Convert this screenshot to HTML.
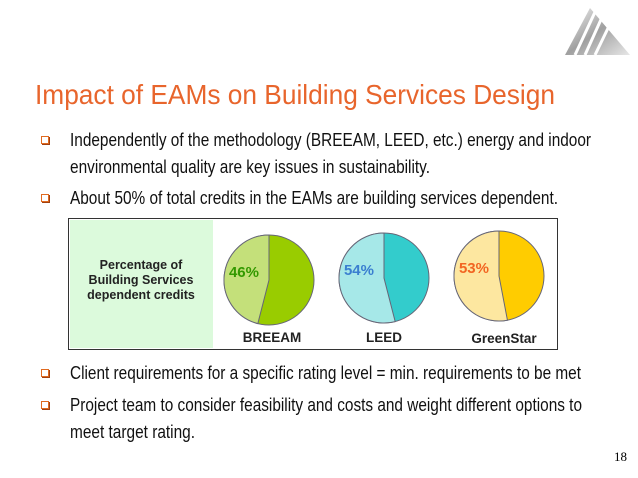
<!DOCTYPE html>
<html><head><meta charset="utf-8"><style>
body{margin:0;width:638px;height:478px;background:#fff;position:relative;overflow:hidden;font-family:"Liberation Sans",sans-serif}
.fit{position:absolute;white-space:nowrap;transform-origin:0 50%}
.title{color:#e8652c;font-size:28px;left:35px;top:78px;line-height:34px}
.t{font-size:18px;color:#111;line-height:20px;left:70px}
.b{position:absolute;left:41px;width:6px;height:6px;border:1.5px solid #e06a20;background:#fff;box-shadow:1px 1px 0 #a04010}
</style></head><body>
<svg width="100" height="70" style="position:absolute;left:545px;top:0">
<defs><linearGradient id="lg" x1="0" y1="0" x2="1" y2="1"><stop offset="0" stop-color="#eee"/><stop offset=".5" stop-color="#777"/><stop offset="1" stop-color="#ddd"/></linearGradient></defs>
<polygon points="45,8 85,55 20,55" fill="url(#lg)" opacity=".7"/>
<g stroke="#fff" stroke-width="3"><line x1="30" y1="55" x2="50" y2="12"/><line x1="40" y1="55" x2="58" y2="15"/><line x1="50" y1="55" x2="66" y2="22"/></g>
</svg>
<div class="fit title" data-w="520">Impact of EAMs on Building Services Design</div>
<div class="b" style="top:136px"></div>
<div class="fit t" data-w="521" style="top:130px">Independently of the methodology (BREEAM, LEED, etc.) energy and indoor</div>
<div class="fit t" data-w="360" style="top:157px">environmental quality are key issues in sustainability.</div>
<div class="b" style="top:194px"></div>
<div class="fit t" data-w="488" style="top:188px">About 50% of total credits in the EAMs are building services dependent.</div>
<div style="position:absolute;left:68px;top:218px;width:488px;height:130px;border:1.5px solid #333;background:#fff"></div>
<div style="position:absolute;left:70px;top:220px;width:143px;height:128px;background:#dcfadc"></div>
<div style="position:absolute;left:70px;top:258px;width:142px;text-align:center;font-weight:bold;font-size:12.5px;line-height:15px;color:#222">Percentage of<br>Building Services<br>dependent credits</div>
<svg id="pies" width="638" height="478" style="position:absolute;left:0;top:0"></svg>
<div class="b" style="top:369px"></div>
<div class="fit t" data-w="511" style="top:363px">Client requirements for a specific rating level = min. requirements to be met</div>
<div class="b" style="top:401px"></div>
<div class="fit t" data-w="512" style="top:395px">Project team to consider feasibility and costs and weight different options to</div>
<div class="fit t" data-w="125" style="top:422px">meet target rating.</div>
<div style="position:absolute;left:614px;top:449px;font-family:'Liberation Serif',serif;font-size:13px">18</div>
<script>
const categories=["BREEAM","LEED","GreenStar"];
const values=[46,54,53];
const labels=["46%","54%","53%"];
const centersX=[269,384,499];
const centersY=[280,278,276];
const lightCols=["#c4e07a","#a6e8e8","#fde7a0"];
const darkCols=["#99cc00","#33cccc","#ffcc00"];
const txtCols=["#339900","#3a7fd0","#f26522"];
const r=45;
const svg=document.getElementById('pies');
const NS="http://www.w3.org/2000/svg";
function pt(cx,cy,f){const a=-Math.PI/2-f*2*Math.PI;return [cx+r*Math.cos(a),cy+r*Math.sin(a)];}
categories.forEach((c,i)=>{
  const cx=centersX[i],cy=centersY[i],f=values[i]/100;
  const full=document.createElementNS(NS,'circle');
  full.setAttribute('cx',cx);full.setAttribute('cy',cy);full.setAttribute('r',r);
  full.setAttribute('fill',darkCols[i]);full.setAttribute('stroke','#667');full.setAttribute('stroke-width','1');
  
  
  svg.appendChild(full);
  const p=pt(cx,cy,f);
  const s=document.createElementNS(NS,'path');
  s.setAttribute('d',`M${cx},${cy-r} A${r},${r} 0 ${f>0.5?1:0} 0 ${p[0]},${p[1]} L${cx},${cy} Z`);
  s.setAttribute('fill',lightCols[i]);s.setAttribute('stroke','#667');s.setAttribute('stroke-width','1');
  
  
  svg.appendChild(s);
  const t=document.createElementNS(NS,'text');
  t.setAttribute('x',cx-10);t.setAttribute('y',cy-3);t.setAttribute('text-anchor','end');
  t.setAttribute('font-size','15');t.setAttribute('font-weight','bold');t.setAttribute('fill',txtCols[i]);
  t.setAttribute('font-family','Liberation Sans, sans-serif');
  
  
  t.textContent=labels[i];svg.appendChild(t);
  const l=document.createElementNS(NS,'text');
  l.setAttribute('x',cx+(i==0?3:i==1?0:5));l.setAttribute('y',i==2?343:342);l.setAttribute('text-anchor','middle');
  l.setAttribute('font-size','13.5');l.setAttribute('font-weight','bold');l.setAttribute('fill','#222');
  l.setAttribute('font-family','Liberation Sans, sans-serif');
  
  
  l.textContent=c;svg.appendChild(l);
});
document.querySelectorAll('.fit').forEach(e=>{const w=e.getBoundingClientRect().width;e.style.transform='scaleX('+(e.dataset.w/w)+')';});
</script>
</body></html>
